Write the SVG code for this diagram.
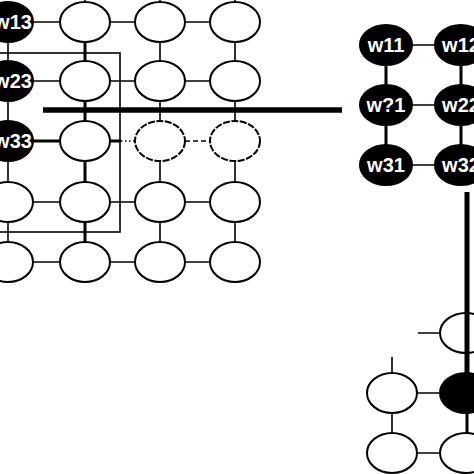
<svg xmlns="http://www.w3.org/2000/svg" width="474" height="474" viewBox="0 0 474 474">
<style>
.wn{fill:#fff;stroke:#000;stroke-width:2}
.dn{fill:#fff;stroke:#000;stroke-width:2;stroke-dasharray:7 1.5}
.bn{fill:#000;stroke:#000;stroke-width:2}
.c{stroke:#000;stroke-width:1.6;fill:none}
.ct{stroke:#000;stroke-width:3;fill:none}
.lb{font-family:"Liberation Sans",Arial,sans-serif;font-weight:bold;font-size:20px;fill:#fff;text-anchor:middle}
</style>
<rect width="474" height="474" fill="#fff"/>
<g id="connectors">
<path class="c" stroke="#666" d="M85 0V3M160 0V3M235 0V3"/>
<path class="c" d="M33 22H60M110 22H135M185 22H210"/>
<path class="c" d="M33 81H60M110 81H135M185 81H210"/>
<path class="ct" d="M33 141H60M110 141H121"/>
<path class="c" stroke-dasharray="1.5 2.5" d="M121 141H135"/>
<path class="c" stroke-dasharray="5 3" d="M185 141H210"/>
<path class="c" d="M33 202H60M110 202H135M185 202H210"/>
<path class="c" d="M33 262H60M110 262H135M185 262H210"/>
<path class="c" d="M8 42V61M8 101V121M8 161V182M8 222V242"/>
<path class="ct" d="M85 42V61M85 101V121M85 161V182M85 222V242"/>
<path class="c" d="M160 42V61M160 101V121M160 161V182M160 222V242"/>
<path class="c" d="M235 42V61M235 101V121M235 161V182M235 222V242"/>
<rect x="-5" y="53" width="125" height="179" fill="none" stroke="#000" stroke-width="1.6"/>
<path d="M43 110H342" stroke="#000" stroke-width="5.5"/>
<path class="c" d="M412 45H435M412 105H435M412 165H435"/>
<path class="ct" d="M386 65V85M386 125V145M461 65V85M461 125V145"/>
<path d="M467 192V380" stroke="#000" stroke-width="5"/>
<path class="c" d="M418 333H440M392 357V373M417 393H440M392 413V433M418 453H440"/>
<path class="ct" d="M467 413V433"/>
</g>
<g id="left-grid">
<ellipse class="bn" cx="8" cy="22" rx="25" ry="20"/>
<ellipse class="bn" cx="8" cy="81" rx="25" ry="20"/>
<ellipse class="bn" cx="8" cy="141" rx="25" ry="20"/>
<text class="lb" x="13" y="29">w13</text>
<text class="lb" x="13" y="88">w23</text>
<text class="lb" x="13" y="148">w33</text>
<ellipse class="wn" cx="8" cy="202" rx="25" ry="20"/>
<ellipse class="wn" cx="8" cy="262" rx="25" ry="20"/>
<ellipse class="wn" cx="85" cy="22" rx="25" ry="20"/>
<ellipse class="wn" cx="160" cy="22" rx="25" ry="20"/>
<ellipse class="wn" cx="235" cy="22" rx="25" ry="20"/>
<ellipse class="wn" cx="85" cy="81" rx="25" ry="20"/>
<ellipse class="wn" cx="160" cy="81" rx="25" ry="20"/>
<ellipse class="wn" cx="235" cy="81" rx="25" ry="20"/>
<ellipse class="wn" cx="85" cy="141" rx="25" ry="20"/>
<ellipse class="dn" cx="160" cy="141" rx="25" ry="20"/>
<ellipse class="dn" cx="235" cy="141" rx="25" ry="20"/>
<ellipse class="wn" cx="85" cy="202" rx="25" ry="20"/>
<ellipse class="wn" cx="160" cy="202" rx="25" ry="20"/>
<ellipse class="wn" cx="235" cy="202" rx="25" ry="20"/>
<ellipse class="wn" cx="85" cy="262" rx="25" ry="20"/>
<ellipse class="wn" cx="160" cy="262" rx="25" ry="20"/>
<ellipse class="wn" cx="235" cy="262" rx="25" ry="20"/>
</g>
<g id="right-grid">
<ellipse class="bn" cx="386" cy="45" rx="26" ry="20"/>
<ellipse class="bn" cx="461" cy="45" rx="26" ry="20"/>
<ellipse class="bn" cx="386" cy="105" rx="26" ry="20"/>
<ellipse class="bn" cx="461" cy="105" rx="26" ry="20"/>
<ellipse class="bn" cx="386" cy="165" rx="26" ry="20"/>
<ellipse class="bn" cx="461" cy="165" rx="26" ry="20"/>
<text class="lb" x="386" y="52">w11</text>
<text class="lb" x="461" y="52">w12</text>
<text class="lb" x="386" y="112">w?1</text>
<text class="lb" x="461" y="112">w22</text>
<text class="lb" x="386" y="172">w31</text>
<text class="lb" x="461" y="172">w32</text>
</g>
<g id="bottom-right">
<ellipse class="wn" cx="466" cy="333" rx="26" ry="20"/>
<path d="M467 313V353" stroke="#000" stroke-width="5"/>
<ellipse class="bn" cx="466" cy="393" rx="26" ry="20"/>
<ellipse class="wn" cx="392" cy="393" rx="25" ry="20"/>
<ellipse class="wn" cx="392" cy="453" rx="25" ry="20"/>
<ellipse class="wn" cx="466" cy="453" rx="26" ry="20"/>
</g>
</svg>
